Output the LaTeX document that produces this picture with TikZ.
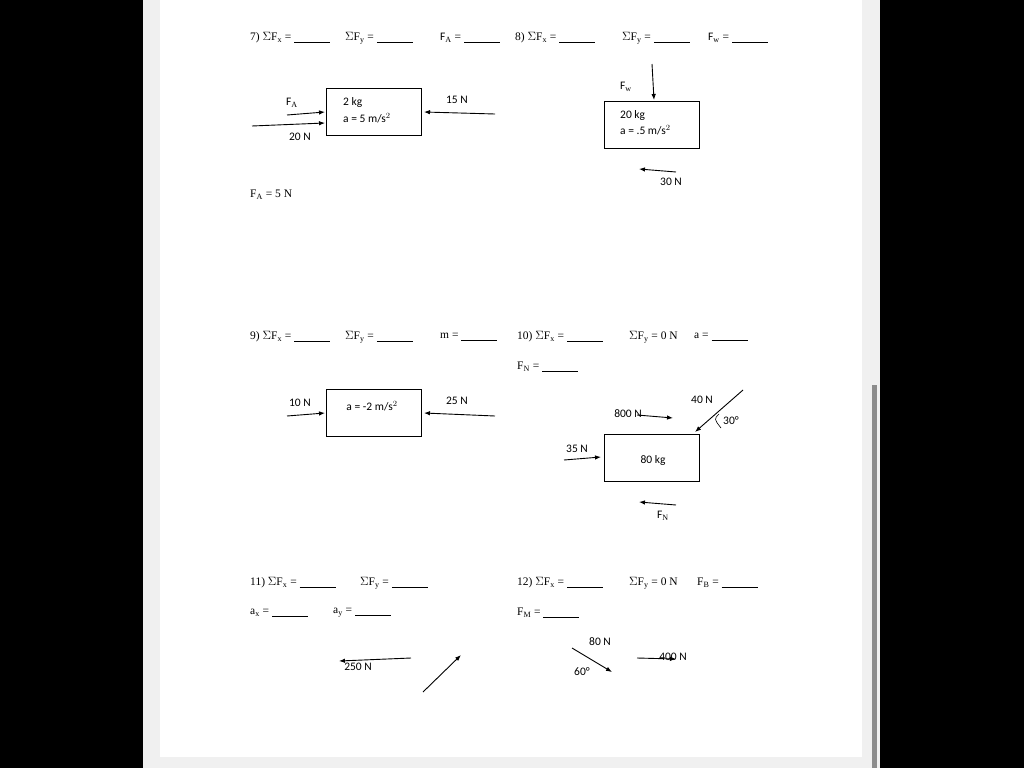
\documentclass[tikz,border=0pt]{standalone}
\usepackage{fontspec}
\setmainfont{Liberation Serif}
\newfontfamily\lab{Carlito}
\usetikzlibrary{arrows.meta}
\begin{document}
\begin{tikzpicture}[x=1pt,y=-1pt,
  hd/.style={anchor=west,font=\fontsize{11.5}{12}\selectfont,inner sep=0pt},
  lb/.style={font=\lab\fontsize{11.5}{12}\selectfont,inner sep=0pt},
  bx/.style={draw,line width=0.9pt,minimum width=95pt,minimum height=47pt,inner sep=0pt},
  ar/.style={-{Latex[length=6pt,width=4.5pt]},line width=0.9pt}]
\fill[black] (0,0) rectangle (1024,768);
\fill[black!6] (143,0) rectangle (880,768);
\fill[white] (160,0) rectangle (862,757);
\fill[black!45] (872,385) rectangle (877,768);
\useasboundingbox (0,0) rectangle (1024,768);
\newcommand\bl{\underline{\hspace{36pt}}}
% row 1
\node[hd] (h1) at (250,38) {7) $\Sigma$F$_\mathrm{x}$ = \bl};
\node[hd] (h2) at (345,38) {$\Sigma$F$_\mathrm{y}$ = \bl};
\node[hd] (h3) at (440,38) {{\lab F$_\mathrm{A}$} = \bl};
\node[hd] (h4) at (515,38) {8) $\Sigma$F$_\mathrm{x}$ = \bl};
\node[hd] (h5) at (622,38) {$\Sigma$F$_\mathrm{y}$ = \bl};
\node[hd] (h6) at (708,38) {{\lab F$_\mathrm{w}$} = \bl};
\node[bx] (b1) at (373.5,111.5) {};
\node[lb,anchor=west] (t1) at (343,102) {2 kg};
\node[lb,anchor=west] (t2) at (343,118) {a = 5 m/s$^2$};
\node[lb] (fa) at (292,103) {F$_\mathrm{A}$};
\coordinate (fa1) at (287,115); \coordinate (fa2) at (325,112);
\draw[ar] (fa1) -- (fa2);
\coordinate (n1) at (252,126); \coordinate (n2) at (325,123);
\draw[ar] (n1) -- (n2);
\node[lb] (l20) at (300,137) {20 N};
\node[lb] (l15) at (457,100) {15 N};
\coordinate (q1) at (495,114); \coordinate (q2) at (424,112);
\draw[ar] (q1) -- (q2);
\node[bx] (b2) at (651.5,124.5) {};
\node[lb,anchor=west] (t3) at (620,115) {20 kg};
\node[lb,anchor=west] (t4) at (620,130) {a = .5 m/s$^2$};
\node[lb] (fw) at (626,87) {F$_\mathrm{w}$};
\coordinate (w1) at (652,64); \coordinate (w2) at (654,100);
\draw[ar] (w1) -- (w2);
\coordinate (s1) at (676,172); \coordinate (s2) at (639,169);
\draw[ar] (s1) -- (s2);
\node[lb] (l30) at (671,182) {30 N};
\node[hd] (fa5) at (250,195) {F$_\mathrm{A}$ = 5 N};
% row 2
\node[hd] (g1) at (250,337) {9) $\Sigma$F$_\mathrm{x}$ = \bl};
\node[hd] (g2) at (345,337) {$\Sigma$F$_\mathrm{y}$ = \bl};
\node[hd] (g3) at (440,337) {m = \bl};
\node[hd] (g4) at (517,337) {10) $\Sigma$F$_\mathrm{x}$ = \bl};
\node[hd] (g5) at (629,337) {$\Sigma$F$_\mathrm{y}$ = 0 N};
\node[hd] (g6) at (694,337) {a = \bl};
\node[hd] (g7) at (517,367) {F$_\mathrm{N}$ = \bl};
\node[bx] (b3) at (373.5,412.5) {};
\node[lb] (t5) at (372,406) {a = -2 m/s$^2$};
\node[lb] (l10) at (300,403) {10 N};
\coordinate (c1) at (287,416); \coordinate (c2) at (325,413);
\draw[ar] (c1) -- (c2);
\node[lb] (l25) at (457,401) {25 N};
\coordinate (d1) at (495,416); \coordinate (d2) at (424,413);
\draw[ar] (d1) -- (d2);
\node[bx] (b4) at (651.5,457.5) {};
\node[lb] (t6) at (653,460) {80 kg};
\node[lb] (l35) at (577,449) {35 N};
\coordinate (e1) at (564,460); \coordinate (e2) at (601,457);
\draw[ar] (e1) -- (e2);
\node[lb] (l800) at (628,414) {800 N};
\coordinate (f1) at (637,415); \coordinate (f2) at (673,418);
\draw[ar] (f1) -- (f2);
\node[lb] (l40) at (702,400) {40 N};
\coordinate (k1) at (743,390); \coordinate (k2) at (695,432);
\draw[ar] (k1) -- (k2);
\coordinate (a1) at (719,414); \coordinate (a2) at (721,428);
\draw[line width=0.6pt] (a1) .. controls (714,419) .. (a2);
\node[lb] (l30b) at (731,421) {30°};
\coordinate (m1) at (676,505); \coordinate (m2) at (639,502);
\draw[ar] (m1) -- (m2);
\node[lb] (fn) at (663,516) {F$_\mathrm{N}$};
% row 3
\node[hd] (r1) at (250,583) {11) $\Sigma$F$_\mathrm{x}$ = \bl};
\node[hd] (r2) at (360,583) {$\Sigma$F$_\mathrm{y}$ = \bl};
\node[hd] (r3) at (517,583) {12) $\Sigma$F$_\mathrm{x}$ = \bl};
\node[hd] (r4) at (629,583) {$\Sigma$F$_\mathrm{y}$ = 0 N};
\node[hd] (r5) at (697,583) {F$_\mathrm{B}$ = \bl};
\node[hd] (r6) at (250,613) {a$_\mathrm{x}$ = \bl};
\node[hd] (r7) at (333,613) {a$_\mathrm{y}$ = \bl};
\node[hd] (r8) at (517,613) {F$_\mathrm{M}$ = \bl};
\coordinate (p1) at (411,658); \coordinate (p2) at (339,661);
\draw[ar] (p1) -- (p2);
\node[lb] (l250) at (358,667) {250 N};
\coordinate (u1) at (423,692); \coordinate (u2) at (461,655);
\draw[ar] (u1) -- (u2);
\node[lb] (l80) at (600,642) {80 N};
\coordinate (v1) at (572,648); \coordinate (v2) at (612,672);
\draw[ar] (v1) -- (v2);
\node[lb] (l60) at (582,672) {60°};
\coordinate (z1) at (637,658); \coordinate (z2) at (676,659);
\draw[ar] (z1) -- (z2);
\node[lb] (l400) at (673,657) {400 N};
\end{tikzpicture}
\end{document}
